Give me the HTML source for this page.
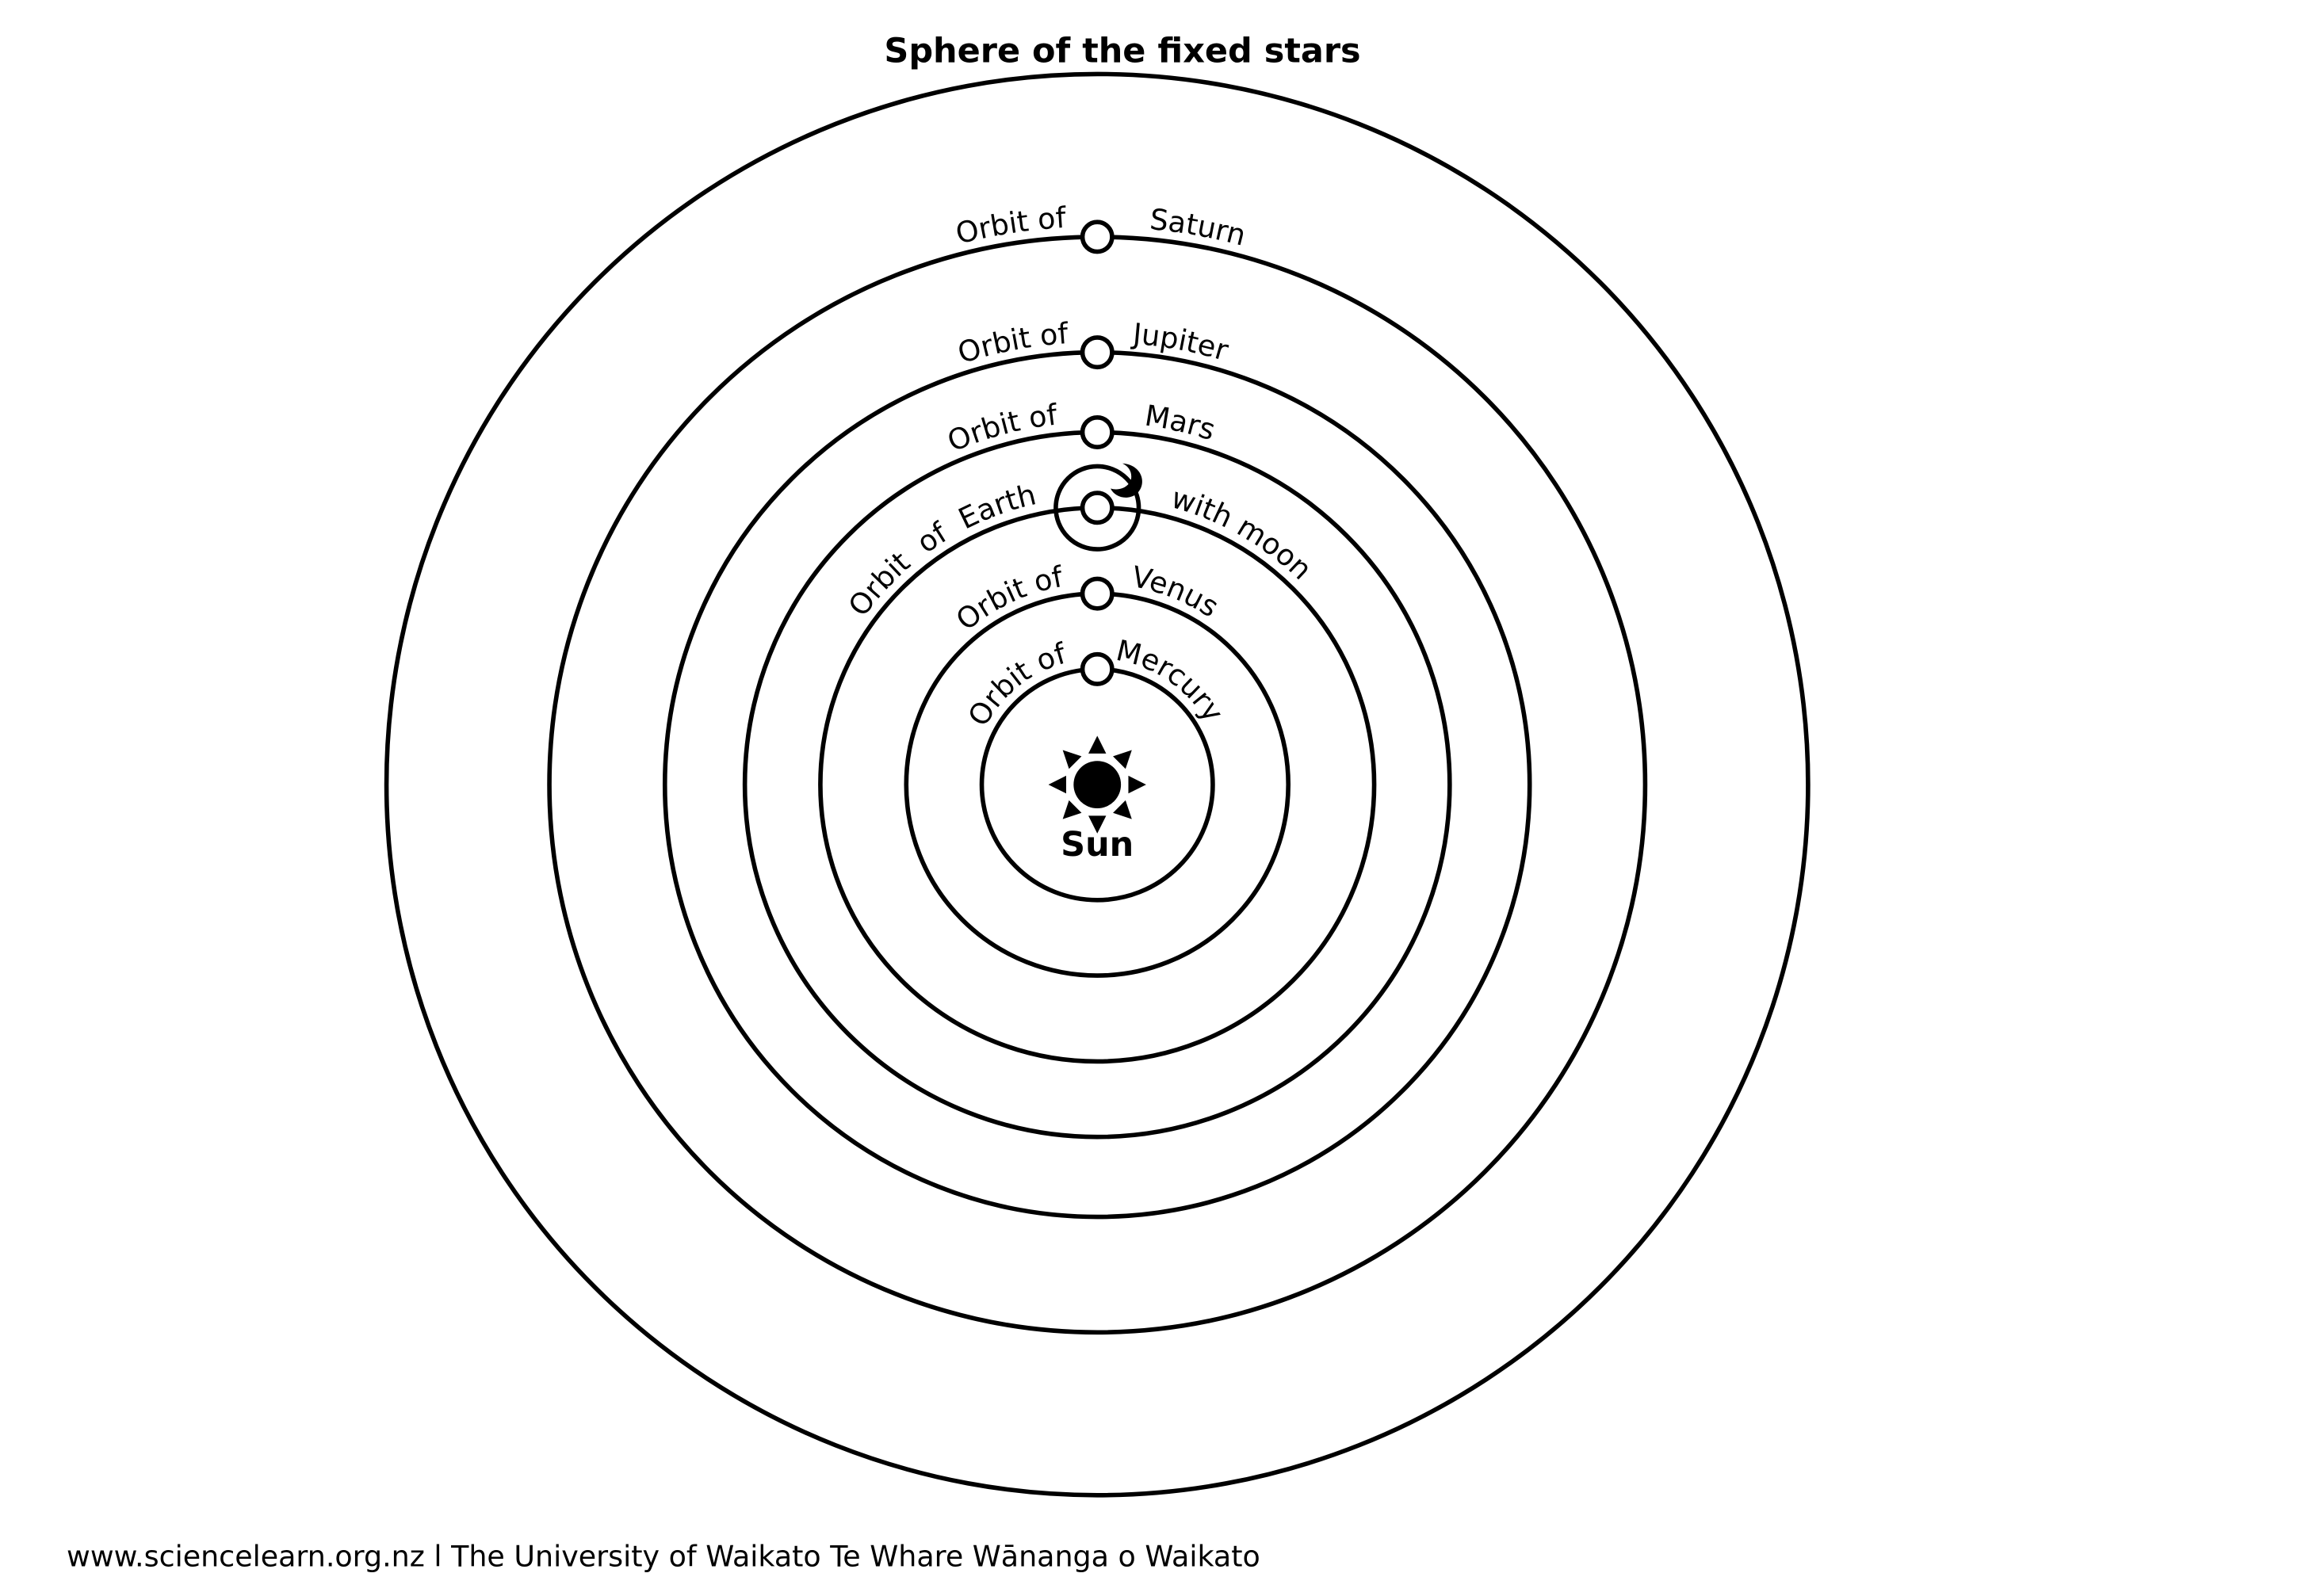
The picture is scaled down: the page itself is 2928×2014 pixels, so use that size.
<!DOCTYPE html>
<html><head><meta charset="utf-8"><style>
html,body{margin:0;padding:0;background:#fff;}
svg{display:block;}
text{font-family:"DejaVu Sans","Liberation Sans",sans-serif;fill:#000;}
</style></head><body>
<svg width="2928" height="2014" viewBox="0 0 1567.4 1078.1" preserveAspectRatio="none" xmlns="http://www.w3.org/2000/svg">
<defs>
<path id="a370" d="M364,530 A377,377 0 0 1 1118,530"/>
<path id="a292" d="M442,530 A299,299 0 0 1 1040,530"/>
<path id="a238" d="M496,530 A245,245 0 0 1 986,530"/>
<path id="a187" d="M547,530 A194,194 0 0 1 935,530"/>
<path id="a129" d="M605,530 A136,136 0 0 1 877,530"/>
<path id="a78" d="M656,530 A85,85 0 0 1 826,530"/>
</defs>
<g fill="none" stroke="#000" stroke-width="3">
<circle cx="741" cy="530" r="480"/>
<circle cx="741" cy="530" r="370"/>
<circle cx="741" cy="530" r="292"/>
<circle cx="741" cy="530" r="238"/>
<circle cx="741" cy="530" r="187"/>
<circle cx="741" cy="530" r="129"/>
<circle cx="741" cy="530" r="78"/>
<circle cx="741" cy="343" r="28"/>
</g>
<g fill="#fff" stroke="#000" stroke-width="3">
<circle cx="741" cy="160" r="10"/>
<circle cx="741" cy="238" r="10"/>
<circle cx="741" cy="292" r="10"/>
<circle cx="741" cy="343" r="10"/>
<circle cx="741" cy="401" r="10"/>
<circle cx="741" cy="452" r="10"/>
</g>
<!-- moon crescent -->
<path d="M758,313 C772,314 775,328 767,334 C761,338 753,336 750,330 C757,332 764,328 764,322 C764,318 762,315 758,313 Z" fill="#000"/>
<!-- sun -->
<g fill="#000">
<circle cx="741" cy="530" r="16"/>
<g id="ray"><polygon points="741,497 735,509 747,509"/></g>
<use href="#ray" transform="rotate(45 741 530)"/>
<use href="#ray" transform="rotate(90 741 530)"/>
<use href="#ray" transform="rotate(135 741 530)"/>
<use href="#ray" transform="rotate(180 741 530)"/>
<use href="#ray" transform="rotate(225 741 530)"/>
<use href="#ray" transform="rotate(270 741 530)"/>
<use href="#ray" transform="rotate(315 741 530)"/>
</g>
<text x="741" y="578" text-anchor="middle" font-size="23" font-weight="bold">Sun</text>
<text x="758" y="42" text-anchor="middle" font-size="23" font-weight="bold">Sphere of the fixed stars</text>
<g font-size="19.5">
<text><textPath href="#a370" startOffset="571" text-anchor="end">Orbit of</textPath></text>
<text><textPath href="#a370" startOffset="627">Saturn</textPath></text>
<text><textPath href="#a292" startOffset="450" text-anchor="end">Orbit of</textPath></text>
<text><textPath href="#a292" startOffset="493">Jupiter</textPath></text>
<text><textPath href="#a238" startOffset="358" text-anchor="end">Orbit of</textPath></text>
<text><textPath href="#a238" startOffset="416">Mars</textPath></text>
<text word-spacing="6"><textPath href="#a187" startOffset="264" text-anchor="end">Orbit of Earth</textPath></text>
<text><textPath href="#a187" startOffset="354">with moon</textPath></text>
<text><textPath href="#a129" startOffset="191" text-anchor="end">Orbit of</textPath></text>
<text><textPath href="#a129" startOffset="236">Venus</textPath></text>
<text><textPath href="#a78" startOffset="113" text-anchor="end">Orbit of</textPath></text>
<text><textPath href="#a78" startOffset="145">Mercury</textPath></text>
</g>
<text x="45" y="1058" font-size="19.5">www.sciencelearn.org.nz l The University of Waikato Te Whare Wānanga o Waikato</text>
</svg>
</body></html>
